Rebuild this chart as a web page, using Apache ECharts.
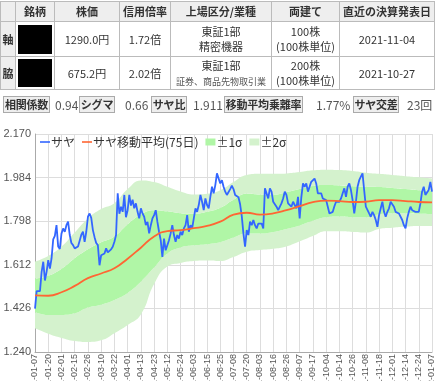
<!DOCTYPE html>
<html><head><meta charset="utf-8">
<script src="https://cdn.jsdelivr.net/npm/echarts@6/dist/echarts.min.js"></script>
<style>
html,body{margin:0;padding:0;background:#fff;}
body{width:437px;height:381px;position:relative;overflow:hidden;font-family:"Noto Sans CJK JP","Noto Sans",sans-serif;}
#chart{position:absolute;left:0;top:0;width:437px;height:381px;}
table.info{position:absolute;left:0;top:1px;border-collapse:collapse;table-layout:fixed;width:434px;font-size:11px;color:#333;}
table.info td,table.info th{border:1px solid #bbb;text-align:center;padding:0;line-height:15px;vertical-align:middle;}
table.info th{background:#eee;font-weight:bold;height:19px;}
table.info td.rh{background:#eee;font-weight:bold;}
.blk{background:#000;width:34px;height:29px;margin:0 auto;}
.btn{position:absolute;top:96px;height:15px;line-height:15px;border:1px solid #aaa;background:#eee;font-weight:bold;font-size:11px;color:#333;text-align:center;white-space:nowrap;letter-spacing:-0.2px;}
.val{position:absolute;top:96px;line-height:17px;font-size:12px;color:#555;white-space:nowrap;}
</style>
</head><body>
<div id="chart"></div>
<table class="info">
<colgroup><col style="width:15px"><col style="width:39px"><col style="width:65px"><col style="width:51px"><col style="width:101px"><col style="width:68px"><col style="width:95px"></colgroup>
<tr><th></th><th>銘柄</th><th>株価</th><th>信用倍率</th><th>上場区分/業種</th><th>両建て</th><th>直近の決算発表日</th></tr>
<tr style="height:35px"><td class="rh">軸</td><td><div class="blk"></div></td><td>1290.0円</td><td>1.72倍</td><td>東証1部<br>精密機器</td><td>100株<br>(100株単位)</td><td>2021-11-04</td></tr>
<tr style="height:33px"><td class="rh">脇</td><td><div class="blk" style="height:28px"></div></td><td>675.2円</td><td>2.02倍</td><td>東証1部<br><span style="font-size:9px;color:#555">証券、商品先物取引業</span></td><td>200株<br>(100株単位)</td><td>2021-10-27</td></tr>
</table>
<div class="btn" style="left:3px;width:45px">相関係数</div><div class="val" style="left:55px">0.94</div>
<div class="btn" style="left:79px;width:34px">シグマ</div><div class="val" style="left:125px">0.66</div>
<div class="btn" style="left:151px;width:34px">サヤ比</div><div class="val" style="left:193px">1.911</div>
<div class="btn" style="left:224px;width:77px">移動平均乗離率</div><div class="val" style="left:316px">1.77%</div>
<div class="btn" style="left:353px;width:44px">サヤ交差</div><div class="val" style="left:407px">23回</div>
<script>
// Calendar (TSE trading days) for the categories
const startDay = '2021-01-07';
const endDay = '2022-01-07';
const closedDays = ['2021-01-11','2021-02-11','2021-02-23','2021-04-29','2021-05-03','2021-05-04','2021-05-05',
  '2021-07-22','2021-07-23','2021-08-09','2021-09-20','2021-09-23','2021-11-03','2021-11-23','2021-12-31','2022-01-03'];
const missingDays = ['2021-02-08','2021-05-07','2021-07-01','2021-09-28','2021-12-07'];
const yTickLabels = ['1.240','1.426','1.612','1.798','1.984','2.170'];

// サヤ (daily)
const saya = [
1.425,1.500,1.505,1.500,1.582,1.625,1.545,1.582,1.632,1.596,
1.639,1.720,1.735,1.781,1.690,1.680,1.745,1.767,1.753,1.781,
1.796,1.739,1.705,1.696,1.682,1.674,1.690,1.715,1.740,1.753,
1.710,1.753,1.817,1.831,1.812,1.760,1.730,1.705,1.696,1.610,
1.653,1.660,1.660,1.682,1.665,1.672,1.678,1.689,1.710,1.739,
1.917,1.830,1.860,1.838,1.910,1.815,1.845,1.910,1.865,1.890,
1.853,1.874,1.838,1.810,1.853,1.831,1.817,1.781,1.795,1.746,
1.781,1.810,1.824,1.845,1.795,1.753,1.717,1.646,1.724,1.674,
1.667,1.717,1.746,1.781,1.739,1.710,1.739,1.724,1.753,1.739,
1.767,1.781,1.824,1.753,1.781,1.767,1.810,1.853,1.838,1.867,
1.910,1.881,1.845,1.895,1.867,1.853,1.902,1.945,1.917,1.952,
2.002,1.995,1.959,1.973,1.945,1.924,1.910,1.902,1.935,1.950,
1.935,1.910,1.915,1.900,1.870,1.820,1.745,1.689,1.760,1.739,
1.796,1.781,1.803,1.781,1.767,1.788,1.781,1.788,1.767,1.938,
1.945,1.895,1.938,1.924,1.881,1.881,1.860,1.845,1.853,1.874,
1.895,1.924,1.910,1.874,1.881,1.860,1.881,1.867,1.853,1.902,
1.810,1.900,1.959,1.945,1.959,1.924,1.945,1.966,1.973,1.980,
1.959,1.917,1.910,1.917,1.895,1.888,1.888,1.860,1.831,1.824,
1.838,1.862,1.881,1.888,1.881,1.895,1.917,1.938,1.902,1.945,
1.959,1.931,1.888,1.831,1.881,1.945,1.973,1.988,2.002,1.930,
1.860,1.867,1.831,1.817,1.838,1.824,1.803,1.774,1.824,1.853,
1.881,1.838,1.817,1.838,1.853,1.881,1.888,1.860,1.838,1.831,
1.831,1.824,1.803,1.781,1.767,1.810,1.838,1.860,1.845,1.853,
1.838,1.831,1.838,1.874,1.924,1.945,1.910,1.910,1.931,1.966,
1.924];

// Moving average and sigma bands, read every 8 trading days
const bandStep = 8;
const ma75 = [1.482,1.480,1.495,1.522,1.555,1.575,1.597,1.638,1.685,1.733,1.756,1.760,1.768,1.778,1.796,1.826,
  1.834,1.826,1.831,1.845,1.862,1.879,1.886,1.884,1.880,1.881,1.888,1.888,1.884,1.880,1.878];
const upper2 = [1.626,1.650,1.690,1.750,1.810,1.850,1.875,1.935,1.972,1.965,1.945,1.925,1.912,1.915,1.930,1.965,
  1.995,2.000,2.000,2.002,2.008,2.015,2.018,2.016,2.012,2.005,2.000,1.995,1.990,1.985,1.980];
const upper1 = [1.553,1.565,1.595,1.640,1.678,1.708,1.733,1.785,1.827,1.845,1.840,1.832,1.830,1.838,1.855,1.890,
  1.915,1.912,1.912,1.922,1.935,1.948,1.952,1.950,1.947,1.945,1.944,1.940,1.935,1.930,1.928];
const lower1 = [1.411,1.398,1.398,1.405,1.430,1.442,1.462,1.492,1.540,1.600,1.660,1.686,1.695,1.700,1.708,1.728,
  1.745,1.745,1.752,1.765,1.780,1.800,1.815,1.818,1.815,1.815,1.828,1.832,1.832,1.830,1.828];
const lower2 = [1.341,1.318,1.300,1.287,1.283,1.290,1.320,1.355,1.400,1.530,1.605,1.620,1.628,1.630,1.628,1.645,
  1.668,1.675,1.680,1.690,1.712,1.735,1.755,1.755,1.752,1.750,1.765,1.770,1.775,1.778,1.778];

function pad(n){return (n<10?'0':'')+n;}
function tradingDays(s, e){
  const out = [];
  const d = new Date(s+'T00:00:00Z'), end = new Date(e+'T00:00:00Z');
  while (d <= end) {
    const str = d.getUTCFullYear()+'-'+pad(d.getUTCMonth()+1)+'-'+pad(d.getUTCDate());
    const wd = d.getUTCDay();
    if (wd !== 0 && wd !== 6 && closedDays.indexOf(str) < 0 && missingDays.indexOf(str) < 0) out.push(str);
    d.setUTCDate(d.getUTCDate()+1);
  }
  return out;
}
const dates = tradingDays(startDay, endDay);
const bandDates = ma75.map((_, k) => dates[k*bandStep]);
const pairs = arr => arr.map((v, k) => [bandDates[k], +v.toFixed(4)]);
const diff = (a, b) => a.map((v, k) => v - b[k]);

const LIGHT = '#d4f2cd', BRIGHT = '#b0f6a6';
const LINE_ICON = 'path://M0,0H10V1.6H0Z';
const chart = echarts.init(document.getElementById('chart'), null, {renderer:'canvas'});
const bandCommon = {type:'line', stack:'band', symbol:'none', smooth:true, lineStyle:{opacity:0}, silent:true, z:1};
chart.setOption({
  animation:false,
  backgroundColor:'#fff',
  grid:{left:35, right:5, top:134, bottom:29, outerBoundsMode:'none', containLabel:false},
  legend:{
    left:40, top:136, padding:0, itemWidth:10, itemHeight:7, itemGap:7,
    textStyle:{fontSize:12, color:'#333', fontFamily:'Noto Sans CJK JP', padding:[0,0,0,-4]},
    data:[
      {name:'サヤ', icon:LINE_ICON, itemStyle:{color:'#3366ff'}},
      {name:'サヤ移動平均(75日)', icon:LINE_ICON, itemStyle:{color:'#ff6633'}},
      {name:'±1σ', icon:'rect', itemStyle:{color:BRIGHT}},
      {name:'±2σ', icon:'rect', itemStyle:{color:LIGHT}}
    ]
  },
  xAxis:{
    type:'category', data:dates, boundaryGap:false,
    axisLine:{lineStyle:{color:'#aaa'}}, axisTick:{show:false},
    axisLabel:{interval:bandStep-1, rotate:90, fontSize:9, color:'#555', margin:2, fontFamily:'Liberation Sans'},
    splitLine:{show:true, interval:bandStep-1, lineStyle:{color:'#ddd'}}
  },
  yAxis:[
    {type:'value', min:1.24, max:2.17, show:false},
    {type:'value', min:0, max:0.93, interval:0.186, position:'left',
      axisLine:{show:true, lineStyle:{color:'#aaa'}}, axisTick:{show:false},
      axisLabel:{fontSize:11, color:'#555', margin:4, fontFamily:'Liberation Sans',
        formatter:(v)=>yTickLabels[Math.round(v/0.186)]},
      splitLine:{show:true, lineStyle:{color:'#ddd'}}}
  ],
  series:[
    Object.assign({}, bandCommon, {name:'base', data:pairs(lower2)}),
    Object.assign({}, bandCommon, {name:'±2σ', color:LIGHT, areaStyle:{color:LIGHT, opacity:1}, data:pairs(diff(lower1, lower2))}),
    Object.assign({}, bandCommon, {name:'±1σ', color:BRIGHT, areaStyle:{color:BRIGHT, opacity:1}, data:pairs(diff(upper1, lower1))}),
    Object.assign({}, bandCommon, {name:'±2σ', color:LIGHT, areaStyle:{color:LIGHT, opacity:1}, data:pairs(diff(upper2, upper1))}),
    {name:'サヤ', type:'line', data:saya, symbol:'none', color:'#3366ff', lineStyle:{width:1.8, color:'#3366ff'}, z:3},
    {name:'サヤ移動平均(75日)', type:'line', data:pairs(ma75), smooth:true, symbol:'none', color:'#ff6633', lineStyle:{width:1.8, color:'#ff6633'}, z:4}
  ]
});
</script>
</body></html>
